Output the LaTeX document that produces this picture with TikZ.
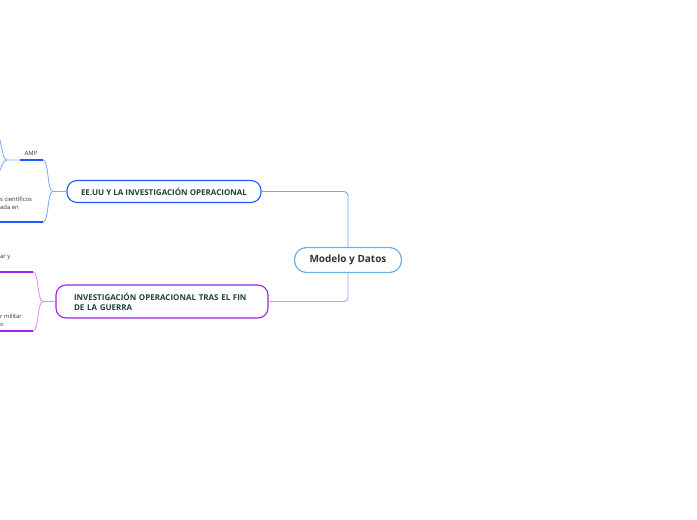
\documentclass[tikz,border=0pt]{standalone}
\usepackage{fontspec}
\setmainfont{Open Sans}

\definecolor{rootline}{HTML}{6CB2E4}
\definecolor{topicblue}{HTML}{1E5BFF}
\definecolor{linkblue}{HTML}{86A8FF}
\definecolor{topicpurple}{HTML}{A020F0}
\definecolor{linkpurple}{HTML}{D594F7}
\definecolor{textgreen}{HTML}{1D4436}
\definecolor{textgray}{HTML}{333333}

\begin{document}
\begin{tikzpicture}[x=1pt,y=-1pt,
	central/.style={draw=rootline, line width=1.2pt, fill=white, rounded corners=12pt,
		minimum width=107pt, minimum height=25pt, inner sep=0pt, text=textgray,
		font=\fontsize{10}{12}\selectfont\bfseries},
	topic/.style={line width=1.1pt, fill=white, rounded corners=10pt, inner sep=0pt,
		text=textgreen, font=\fontsize{8}{10}\selectfont\bfseries},
	leaf/.style={inner sep=0pt, align=left, text=textgray,
		font=\fontsize{5.9}{8.5}\selectfont},
	twig/.style={line width=0.9pt},
	underline/.style={line width=1.6pt}]
	\useasboundingbox (0,0) rectangle (697,520);
	\clip (0,0) rectangle (697,520);

	% main node and the two topics
	\node[central] (datos) at (348,260) {Modelo y Datos};
	\node[topic, draw=topicblue, minimum width=194pt, minimum height=22pt]
		(eeuu) at (164,191.5) {EE.UU Y LA INVESTIGACIÓN OPERACIONAL};
	\node[topic, draw=topicpurple, minimum height=33pt, text width=176pt,
		inner xsep=18pt, align=left]
		(tras) at (162,301.5) {INVESTIGACIÓN OPERACIONAL TRAS EL FIN\\DE LA GUERRA};

	\draw[twig, linkblue!85!topicblue, rounded corners=4pt] (datos.north) |- (eeuu.east);
	\draw[twig, linkpurple, rounded corners=4pt] (datos.south) |- (tras.east);

	% leaves of EE.UU
	\coordinate (jeeuu) at (53,191.5);
	\coordinate (ampL) at (20,160);  \coordinate (ampR) at (43,160);
	\coordinate (cienL) at (0,222);  \coordinate (cienR) at (43,222);
	\coordinate (jamp) at (7,160);
	\coordinate (ampUp) at (-2,135); \coordinate (ampDown) at (-2,174);

	\node[leaf] (amp) at (31,153.5) {AMP};
	\node[leaf, anchor=north west] (cien) at (0,196.5) {s científicos\\ada en};

	\draw[twig, linkblue] (eeuu.west) -- (jeeuu)
		.. controls (47,191.5) and (49,160) .. (ampR);
	\draw[twig, linkblue] (jeeuu) .. controls (47,191.5) and (49,222) .. (cienR);
	\draw[twig, linkblue] (ampL) -- (jamp) .. controls (2,160) and (2,142) .. (ampUp);
	\draw[twig, linkblue] (jamp) .. controls (2,160) and (2,168) .. (ampDown);
	\draw[underline, topicblue] (ampL) -- (ampR);
	\draw[underline, topicblue] (cienL) -- (cienR);

	% leaves of the post-war topic
	\coordinate (jtras) at (43,301.5);
	\coordinate (arL) at (0,272);    \coordinate (arR) at (33,272);
	\coordinate (milL) at (0,331);   \coordinate (milR) at (33,331);

	\node[leaf, anchor=north west] (ary) at (0,255.5) {ar y};
	\node[leaf, anchor=north west] (militar) at (0,313.5) {r militar\\o};

	\draw[twig, linkpurple] (tras.west) -- (jtras)
		.. controls (37,301.5) and (39,272) .. (arR);
	\draw[twig, linkpurple] (jtras) .. controls (37,301.5) and (39,331) .. (milR);
	\draw[underline, topicpurple] (arL) -- (arR);
	\draw[underline, topicpurple] (milL) -- (milR);
\end{tikzpicture}
\end{document}
